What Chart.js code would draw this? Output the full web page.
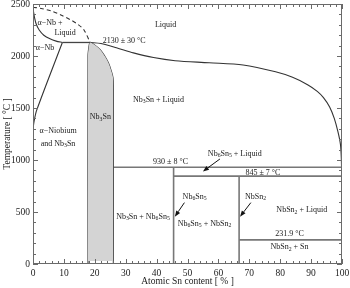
<!DOCTYPE html>
<html><head><meta charset="utf-8">
<script src="https://cdn.jsdelivr.net/npm/chart.js@4/dist/chart.umd.min.js"></script>
<style>html,body{margin:0;padding:0;background:#fff}#wrap{width:350px;height:288px}</style>
</head><body><div id="wrap"><canvas id="c" width="350" height="288"></canvas></div>
<script>
// ---- tick labels ----
const xTicks = [0,10,20,30,40,50,60,70,80,90,100];
const yTicks = [0,500,1000,1500,2000,2500];
const xMinorStep = 2, yMinorStep = 100;

// ---- phase boundaries [at.% Sn, °C] ----
const alphaNbSolidus = [[0,2469],[0.2,2420],[0.5,2370],[1,2310],[2,2250],[3.5,2200],[5.5,2165],[7.5,2143],[9.5,2130]];
const alphaNbLiquidus = [[0,2469],[3,2455],[6,2432],[9,2395],[12,2350],[14.5,2305],[16.5,2250],[18.5,2130]];
const peritectic2130 = [[9.5,2130],[18.5,2130]];
const alphaNbSolvus = [[9.5,2130],[1.2,1480],[0.4,1380],[0,1300]];
const liquidus = [[18.5,2130],[22,2120],[27,2080],[32.5,2030],[39,1985],[46,1955],[57,1935],[68,1913],[78.5,1848],[84,1795],[89,1722],[92,1660],[94,1600],[96,1510],[97.5,1400],[98.7,1270],[99.5,1150],[99.8,1000],[99.9,850]];
const nb3snLeft = [[17.8,0],[17.8,2000],[18.2,2110],[18.5,2130]];
const nb3snRight = [[18.5,2130],[20,2105],[21.8,2060],[23.2,2000],[24.4,1935],[25.3,1860],[25.9,1790],[26,1690],[26,0]];
const nb3snFill = [[17.8,30],[17.8,2000],[18.2,2110],[18.5,2130],[20,2105],[21.8,2060],[23.2,2000],[24.4,1935],[25.3,1860],[25.9,1790],[26,1690],[26,30]];
const iso930 = [[26,930],[100,930]];
const iso845 = [[45.5,845],[100,845]];
const iso232 = [[66.7,231.9],[100,231.9]];
const nb6sn5Line = [[45.5,0],[45.5,930]];
const nbsn2Line = [[66.7,0],[66.7,845]];

// ---- labels [text, x, T] ({n} = subscript) ----
const labels = [
  ['α−Nb +', 5.5, 2317],
  ['Liquid', 10.4, 2221],
  ['α−Nb', 3.9, 2077],
  ['2130 ± 30 °C', 29.5, 2145],
  ['Liquid', 42.9, 2298],
  ['Nb{3}Sn + Liquid', 40.6, 1577],
  ['Nb{3}Sn', 21.8, 1413],
  ['α−Niobium', 8.1, 1279],
  ['and Nb{3}Sn', 8.1, 1154],
  ['930 ± 8 °C', 44.5, 981],
  ['Nb{6}Sn{5} + Liquid', 65.3, 1058],
  ['845 ± 7 °C', 74.4, 875],
  ['Nb{6}Sn{5}', 52.3, 645],
  ['NbSn{2}', 72, 645],
  ['NbSn{2} + Liquid', 87, 519],
  ['Nb{3}Sn + Nb{6}Sn{5}', 35.6, 452],
  ['Nb{6}Sn{5} + NbSn{2}', 55.5, 385],
  ['231.9 °C', 83, 288],
  ['NbSn{2} + Sn', 83, 163]
];
// ---- arrows [x0, T0, x1 (tip), T1 (tip)] ----
const arrows = [
  [60.5, 1010, 55.0, 890],
  [49.0, 590, 45.9, 455],
  [70.5, 590, 67.0, 455]
];

const FONT = "'Liberation Serif','DejaVu Serif',serif";
const pts = a => a.map(p => ({x:p[0], y:p[1]}));
const curve = (d, opts={}) => Object.assign({data:pts(d), showLine:true, pointRadius:0, borderColor:'#333', borderWidth:1.1, fill:false, tension:0.3}, opts);
const straight = (d, opts={}) => Object.assign({data:pts(d), showLine:true, pointRadius:0, borderColor:'#777', borderWidth:1.6, fill:false, tension:0}, opts);

function drawRich(ctx, str, cx, cy, size) {
  const parts = [];
  const re = /\{([^}]*)\}|([^{]+)/g; let m;
  while ((m = re.exec(str))) parts.push(m[1] !== undefined ? {t:m[1], sub:true} : {t:m[2], sub:false});
  const fN = size + 'px ' + FONT, fS = (size*0.72) + 'px ' + FONT;
  let w = 0;
  parts.forEach(p => { ctx.font = p.sub ? fS : fN; p.w = ctx.measureText(p.t).width; w += p.w; });
  let x = cx - w/2;
  ctx.textBaseline = 'middle'; ctx.textAlign = 'left';
  parts.forEach(p => { ctx.font = p.sub ? fS : fN; ctx.fillText(p.t, x, cy + (p.sub ? 2 : 0)); x += p.w; });
}

const annot = {
  id:'annot',
  afterDatasetsDraw(chart) {
    const {ctx, scales:{x, y}} = chart;
    ctx.save();
    ctx.fillStyle = '#1a1a1a';
    labels.forEach(l => drawRich(ctx, l[0], x.getPixelForValue(l[1]), y.getPixelForValue(l[2]), 8));
    ctx.strokeStyle = '#111'; ctx.fillStyle = '#111'; ctx.lineWidth = 1;
    arrows.forEach(a => {
      const x0 = x.getPixelForValue(a[0]), y0 = y.getPixelForValue(a[1]);
      const x1 = x.getPixelForValue(a[2]), y1 = y.getPixelForValue(a[3]);
      const ang = Math.atan2(y1-y0, x1-x0), hl = 6, hw = 2.3;
      const bx = x1 - hl*Math.cos(ang), by = y1 - hl*Math.sin(ang);
      ctx.beginPath(); ctx.moveTo(x0,y0); ctx.lineTo(bx,by); ctx.stroke();
      ctx.beginPath(); ctx.moveTo(x1,y1);
      ctx.lineTo(bx + hw*Math.sin(ang), by - hw*Math.cos(ang));
      ctx.lineTo(bx - hw*Math.sin(ang), by + hw*Math.cos(ang));
      ctx.closePath(); ctx.fill();
    });
    ctx.restore();
  },
  afterDraw(chart) {
    const {ctx, chartArea:{left,right,top,bottom}, scales:{x, y}} = chart;
    ctx.save();
    ctx.strokeStyle = '#6a6a6a'; ctx.lineWidth = 1;
    ctx.strokeRect(Math.round(left)+0.5, Math.round(top)+0.5, Math.round(right-left)-1, Math.round(bottom-top)-1);
    ctx.beginPath();
    for (let v = x.min; v <= x.max + 1e-9; v += xMinorStep) {
      const px = Math.round(x.getPixelForValue(v)) + 0.5;
      const len = (Math.abs(v % 10) < 1e-9) ? 5 : 3;
      ctx.moveTo(px, bottom); ctx.lineTo(px, bottom - len);
      ctx.moveTo(px, top); ctx.lineTo(px, top + len);
    }
    for (let v = y.min; v <= y.max + 1e-9; v += yMinorStep) {
      const py = Math.round(y.getPixelForValue(v)) + 0.5;
      const len = (Math.abs(v % 500) < 1e-9) ? 5 : 3;
      ctx.moveTo(left, py); ctx.lineTo(left + len, py);
      ctx.moveTo(right, py); ctx.lineTo(right - len, py);
    }
    ctx.stroke();
    ctx.restore();
  }
};

new Chart(document.getElementById('c'), {
  type:'scatter',
  data:{datasets:[
    {data:pts(nb3snFill), showLine:true, pointRadius:0, borderWidth:0, borderColor:'rgba(0,0,0,0)', backgroundColor:'#d4d4d4', fill:{value:30}, tension:0.3},
    curve(alphaNbSolidus),
    curve(alphaNbLiquidus, {borderDash:[4,3]}),
    straight(peritectic2130, {borderColor:'#444', borderWidth:1.3}),
    curve(alphaNbSolvus),
    curve(liquidus),
    curve(nb3snLeft, {tension:0.2}),
    curve(nb3snRight),
    straight(iso930),
    straight(iso845),
    straight(iso232),
    straight(nb6sn5Line),
    straight(nbsn2Line)
  ]},
  options:{
    responsive:false, animation:false, devicePixelRatio:1,
    layout:{padding:{top:4, right:8, left:0, bottom:0}},
    plugins:{legend:{display:false}, tooltip:{enabled:false}},
    scales:{
      x:{type:'linear', min:0, max:100,
        afterBuildTicks:s => { s.ticks = xTicks.map(v => ({value:v})); },
        afterFit:s => { s.height = 24; s.paddingLeft = 0; s.paddingRight = 0; },
        grid:{display:false, drawTicks:false}, border:{display:false},
        ticks:{padding:4, color:'#222', font:{family:FONT, size:9.5}, maxRotation:0, autoSkip:false, callback:v => String(v)},
        title:{display:true, text:'Atomic Sn content [ % ]', color:'#222', font:{family:FONT, size:9.5}, padding:{top:0,bottom:1}}
      },
      y:{type:'linear', min:0, max:2500,
        afterBuildTicks:s => { s.ticks = yTicks.map(v => ({value:v})); },
        afterFit:s => { s.width = 33; s.paddingTop = 0; s.paddingBottom = 0; },
        grid:{display:false, drawTicks:false}, border:{display:false},
        ticks:{padding:3, color:'#222', font:{family:FONT, size:9.5}, autoSkip:false, callback:v => String(v)},
        title:{display:true, text:'Temperature [ °C ]', color:'#222', font:{family:FONT, size:9.5}, padding:{top:2,bottom:0}}
      }
    }
  },
  plugins:[annot]
});
</script></body></html>
